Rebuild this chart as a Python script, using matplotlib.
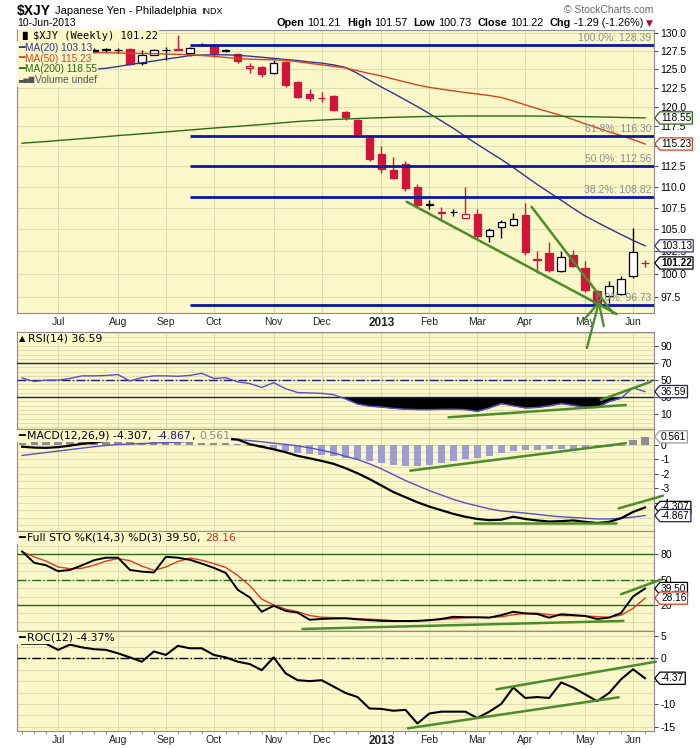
import numpy as np
import matplotlib
matplotlib.use("Agg")
import matplotlib.pyplot as plt
from matplotlib.patches import Rectangle, ConnectionPatch
from matplotlib.path import Path
from matplotlib.ticker import FixedLocator, FuncFormatter, NullLocator
from matplotlib.transforms import blended_transform_factory

plt.rcParams['font.family'] = ['Liberation Sans', 'DejaVu Sans']

# ------------------------------------------------------------------ data
weeks = list(range(1, 54))          # weekly bars, week 1 = 11-Jun-2012 ... week 53 = 10-Jun-2013
opens = [125.5, 126.3, 126.9, 127.3, 127.0, 127.5, 127.7, 127.75, 127.65, 127.8,
         125.85, 127.0, 127.6, 127.75, 127.3, 128.3, 128.35, 127.6, 127.1, 125.2,
         125.3, 124.5, 126.0, 123.3, 121.7, 121.2, 121.4, 119.3, 118.3, 116.1,
         114.0, 112.0, 112.8, 110.0, 107.85, 107.0, 106.95, 106.35, 106.8, 104.2,
         105.3, 105.5, 106.7, 101.65, 102.3, 100.3, 102.15, 100.7, 98.2, 97.6,
         97.9, 99.75, 101.21]
highs = [126.6, 127.2, 127.6, 127.9, 127.8, 128.0, 127.9, 127.95, 128.0, 127.95,
         127.7, 127.8, 128.1, 129.8, 128.1, 128.7, 128.5, 127.8, 127.2, 125.86,
         125.4, 126.3, 126.1, 123.4, 122.3, 121.9, 121.5, 119.5, 118.4, 116.2,
         115.0, 113.6, 113.1, 110.3, 108.4, 107.6, 107.4, 110.0, 107.4, 105.1,
         106.1, 106.9, 108.0, 102.6, 103.6, 102.5, 102.7, 101.4, 98.3, 99.3,
         99.8, 105.1, 101.57]
lows = [125.2, 126.0, 126.5, 126.8, 126.7, 127.1, 127.3, 127.4, 127.25, 125.6,
        125.6, 126.9, 126.3, 127.6, 126.8, 128.2, 126.65, 127.4, 125.86, 124.5,
        123.9, 124.4, 122.6, 121.1, 120.8, 120.6, 119.4, 118.3, 116.1, 113.1,
        111.7, 110.9, 109.5, 107.6, 107.4, 105.9, 106.5, 106.3, 103.9, 103.6,
        104.0, 105.4, 102.1, 100.1, 100.25, 100.2, 100.8, 98.1, 96.73, 96.85,
        97.8, 99.6, 100.73]
closes = [126.3, 126.9, 127.3, 127.0, 127.5, 127.3, 127.55, 127.65, 127.7, 125.7,
          127.0, 127.6, 127.65, 127.6, 127.9, 128.39, 127.2, 127.55, 126.1, 125.5,
          124.3, 125.9, 122.9, 121.3, 121.15, 121.1, 119.6, 118.7, 116.5, 113.4,
          112.1, 111.0, 109.8, 107.8, 107.95, 106.9, 107.05, 106.8, 104.2, 104.9,
          105.8, 106.2, 102.4, 101.55, 100.5, 101.9, 100.9, 98.3, 96.9, 98.7,
          99.5, 102.45, 101.22]
ma20 = [124.6, 124.6, 124.7, 124.75, 124.8, 124.9, 125.0, 125.14, 125.38, 125.65,
        125.89, 126.13, 126.41, 126.62, 126.89, 126.96, 127.0, 126.99, 126.92, 126.8,
        126.65, 126.5, 126.34, 126.2, 126.0, 125.85, 125.6, 125.25, 124.45, 123.5,
        122.6, 121.76, 120.89, 120.02, 119.1, 118.17, 117.22, 116.19, 115.19, 114.24,
        113.31, 112.32, 111.28, 110.26, 109.31, 108.38, 107.43, 106.54, 105.81, 105.1,
        104.41, 103.74, 103.13]
ma50 = [127.2, 127.25, 127.3, 127.3, 127.32, 127.32, 127.31, 127.28, 127.24, 127.21,
        127.18, 127.16, 127.1, 127.06, 127.0, 126.89, 126.78, 126.62, 126.48, 126.4,
        126.33, 126.31, 126.23, 126.04, 125.82, 125.61, 125.4, 125.18, 124.8, 124.43,
        124.09, 123.68, 123.28, 122.88, 122.57, 122.32, 122.1, 121.88, 121.68, 121.48,
        121.22, 120.76, 120.26, 119.76, 119.32, 118.86, 118.35, 117.8, 117.28, 116.77,
        116.3, 115.79, 115.23]
ma200 = [115.33, 115.44, 115.54, 115.67, 115.78, 115.91, 116.03, 116.16, 116.29, 116.4,
         116.52, 116.64, 116.76, 116.88, 117.0, 117.13, 117.25, 117.36, 117.47, 117.59,
         117.7, 117.83, 117.96, 118.09, 118.18, 118.27, 118.35, 118.41, 118.47, 118.53,
         118.58, 118.63, 118.67, 118.71, 118.74, 118.76, 118.79, 118.8, 118.8, 118.8,
         118.8, 118.8, 118.8, 118.79, 118.78, 118.76, 118.74, 118.71, 118.68, 118.65,
         118.61, 118.58, 118.55]
rsi = [52.5, 48.5, 50, 50, 52, 55, 55, 55.5, 56.5, 49,
       53, 55, 55, 54.5, 55.5, 58, 52, 52.8, 48, 46,
       41.5, 47, 40, 35.5, 35, 34.5, 33, 28, 22, 19.5,
       18.5, 17, 16, 15.5, 15.5, 15.8, 16, 15.5, 13.5, 17.5,
       22.5, 20, 17.5, 18, 20, 22.5, 20.5, 18, 18, 25,
       29, 41, 36.59]
macd = [-0.12, -0.18, -0.2, -0.15, -0.05, 0.08, 0.15, 0.3, 0.35, 0.35,
        0.38, 0.4, 0.42, 0.45, 0.45, 0.47, 0.48, 0.45, 0.37, 0.05,
        -0.12, -0.3, -0.5, -0.75, -0.92, -1.1, -1.3, -1.6, -1.95, -2.35,
        -2.8, -3.25, -3.6, -3.95, -4.25, -4.5, -4.75, -4.95, -5.1, -5.18,
        -5.15, -4.95, -5.1, -5.2, -5.28, -5.25, -5.2, -5.3, -5.38, -5.3,
        -5.05, -4.62, -4.307]
macd_signal = [-0.72, -0.62, -0.52, -0.42, -0.32, -0.22, -0.12, -0.03, 0.03, 0.07,
               0.1, 0.13, 0.16, 0.2, 0.24, 0.28, 0.32, 0.35, 0.37, 0.3,
               0.22, 0.12, 0.04, -0.06, -0.2, -0.36, -0.55, -0.78, -1.0, -1.3,
               -1.65, -2.05, -2.45, -2.8, -3.15, -3.45, -3.75, -4.0, -4.2, -4.4,
               -4.55, -4.62, -4.7, -4.78, -4.88, -4.95, -5.0, -5.05, -5.1, -5.1,
               -5.05, -4.97, -4.867]
macd_hist = [0.16, 0.17, 0.17, 0.18, 0.18, 0.17, 0.16, 0.17, 0.18, 0.17,
             0.16, 0.17, 0.18, 0.17, 0.17, 0.16, 0.15, 0.12, 0.05, -0.1,
             -0.22, -0.32, -0.45, -0.55, -0.62, -0.7, -0.78, -0.88, -1.0, -1.12,
             -1.25, -1.38, -1.47, -1.45, -1.38, -1.25, -1.12, -1.0, -0.88, -0.75,
             -0.55, -0.45, -0.38, -0.33, -0.3, -0.28, -0.25, -0.23, -0.2, -0.12,
             -0.04, 0.33, 0.561]
sto_k = [83.5, 70, 67, 60, 61.5, 67, 73, 76, 76, 61.5,
         59.5, 58.5, 77, 76, 73.5, 69, 64, 58, 38, 29,
         12, 19, 13, 11, 2.5, 3.5, 4, 4.2, 3, 2,
         1.2, 1, 1, 1.2, 2, 3.5, 6, 5.5, 5.4, 5,
         8, 12, 10, 9.3, 5, 9, 8, 7, 3.4, 5,
         10.5, 30, 39.50]
sto_d = [83, 77, 72, 65, 63, 63.5, 67, 72, 75, 72.5,
         66, 61, 65, 71.5, 75.5, 73, 69, 64.5, 55, 43,
         27, 20, 15, 12, 7.5, 5.5, 5, 4.5, 3.8, 3.2,
         2.5, 1.5, 1.1, 1.3, 2, 2.8, 4, 5, 5.5, 5.3,
         6, 8.5, 10, 10.3, 8.5, 7.5, 7.3, 7, 6.2, 5.5,
         8, 16, 28.16]
roc = [3.2, 3.2, 3.2, 1.85, 3.0, 2.4, 2.0, 1.85, 1.1, 0.2,
       -0.74, 1.5, 0.74, 2.74, 2.2, 2.2, 0.74, 0.2, -0.74, -1.26,
       -2.6, 0.2, -3.3, -4.8, -5.0, -4.8, -6.2, -7.6, -8.5, -11.0,
       -11.1, -11.5, -11.3, -14.3, -12.1, -11.7, -11.7, -11.7, -13.1, -11.7,
       -10, -6.4, -8.7, -8.5, -8.7, -5.3, -6.4, -7.9, -9.4, -7.6,
       -4.6, -2.4, -4.37]

month_pos = [4, 9, 13, 17, 22, 26, 31, 35, 39, 43, 48, 52]
month_labels = ['Jul', 'Aug', 'Sep', 'Oct', 'Nov', 'Dec', '2013', 'Feb', 'Mar', 'Apr', 'May', 'Jun']

fib_names = ['100.0%', '61.8%', '50.0%', '38.2%', '0.0%']
fib_levels = [128.39, 116.30, 112.56, 108.82, 96.73]
fib_start_week = 15

price_ticks = [97.5, 100.0, 102.5, 105.0, 107.5, 110.0, 112.5, 115.0, 117.5, 120.0, 122.5, 125.0, 127.5, 130.0]
rsi_ticks = [10, 30, 50, 70, 90]
macd_ticks = [0, -1, -2, -3, -4]
sto_ticks = [20, 50, 80]
roc_ticks = [5, 0, -5, -10, -15]

# hand-drawn annotation lines (week, value)
price_trendlines = [[(33.1, 108.2), (50.64, 95.74)], [(43.53, 107.6), (50.35, 95.8)]]
rsi_trendlines = [[(36.6, 6.5), (51.4, 20.9)], [(49.3, 26.8), (53.5, 48.2)]]
macd_trendlines = [[(33.4, -1.77), (51.4, 0.12)], [(50.8, -4.37), (54.5, -3.5)], [(38.7, -5.36), (50.6, -5.36)]]
sto_trendlines = [[(24.4, -8.4), (51.2, 1.1)], [(51.0, 32.7), (54.3, 50.0)]]
roc_trendlines = [[(40.6, -6.8), (53.9, -0.74)], [(33.2, -15.35), (50.8, -8.55)]]
arrow_tail_rsi = (48.15, 87.7)
arrow_tip_price = (49.2, 97.2)

chg, chg_pct = -1.29, -1.26

# ------------------------------------------------------------------ style
W, H = 700, 748
L, R = 16.5, 654
XMIN, XMAX = 0.53, 53.75
BG = '#faf7c8'
GRID = '#dcd8ae'
RED = '#d0143a'
NAVY = '#1c1c7c'
MA20C = '#34348f'
MA50C = '#d2461e'
MA200C = '#2a6a14'
GREEN = '#4d8c2b'
PURP = '#5a4ec8'
FIB = '#0c16a6'

fig = plt.figure(figsize=(W / 100, H / 100), dpi=100, facecolor='white')


def panel(top, bottom):
    return fig.add_axes([L / W, 1 - bottom / H, (R - L) / W, (bottom - top) / H])


ax_p = panel(29.5, 313)
ax_r = panel(331.7, 429)
ax_m = panel(429, 531)
ax_s = panel(531, 631)
ax_c = panel(631, 731)


def style(ax, ylim, ticks, fmt, minor=None, log=False):
    ax.set_facecolor(BG)
    if log:
        ax.set_yscale('log')
    ax.set_xlim(XMIN, XMAX)
    ax.set_ylim(*ylim)
    ax.set_xticks(month_pos)
    ax.tick_params(axis='x', which='major', length=0, labelbottom=False)
    ax.grid(True, axis='x', which='major', color=GRID, lw=0.7)
    ax.yaxis.tick_right()
    ax.yaxis.set_major_locator(FixedLocator(ticks))
    ax.yaxis.set_major_formatter(FuncFormatter(fmt))
    if minor is not None:
        ax.yaxis.set_minor_locator(FixedLocator(minor))
    else:
        ax.yaxis.set_minor_locator(NullLocator())
    ax.grid(True, axis='y', which='both', color=GRID, lw=0.6)
    ax.tick_params(axis='y', which='major', direction='out', length=3, width=0.7,
                   color='#444444', labelsize=7.5, pad=1.5)
    ax.tick_params(axis='y', which='minor', length=0)
    for s in ax.spines.values():
        s.set_color('#8c8c8c')
        s.set_linewidth(0.8)
    ax.set_axisbelow(True)


style(ax_p, (95.85, 130.54), price_ticks, lambda v, p: f'{v:.1f}', log=True)
style(ax_r, (-7.2, 106.7), rsi_ticks, lambda v, p: f'{v:g}', minor=np.arange(-5, 106, 5))
style(ax_m, (-5.93, 1.10), macd_ticks, lambda v, p: f'{v:g}', minor=np.arange(-6, 1.01, 0.5))
style(ax_s, (-10.8, 107.6), sto_ticks, lambda v, p: f'{v:g}', minor=np.arange(-10, 106, 10))
style(ax_c, (-15.94, 5.99), roc_ticks, lambda v, p: f'{v:g}', minor=np.arange(-15, 6, 2.5))

for ax in (ax_p, ax_c):
    ax.set_xticks(month_pos, month_labels)
    ax.tick_params(axis='x', which='major', labelbottom=True, labelsize=7.5, pad=3,
                   labelcolor='#222222')
    for lab in ax.get_xticklabels():
        if lab.get_text() == '2013':
            lab.set_fontweight('bold')
            lab.set_fontsize(8.5)
ax_c.set_xticks(weeks, minor=True)
ax_c.tick_params(axis='x', which='minor', length=2.5, width=0.6, color='#777777', direction='out')

x = np.array(weeks, dtype=float)

# ------------------------------------------------------------------ price panel
o = np.array(opens); h = np.array(highs); l = np.array(lows); c = np.array(closes)
prev = np.concatenate([[o[0]], c[:-1]])
bw = 0.62
for xi, oi, hi, li, ci, pi in zip(x, o, h, l, c, prev):
    col = RED if ci < pi else 'black'
    ax_p.vlines(xi, li, hi, color=col, lw=1.0, zorder=3)
    lo, up = min(oi, ci), max(oi, ci)
    fc = col if ci < oi else 'white'
    ax_p.add_patch(Rectangle((xi - bw / 2, lo), bw, max(up - lo, 0.01), fc=fc, ec=col,
                             lw=0.9, zorder=4))

ax_p.plot(x, ma20, color=MA20C, lw=1.0, zorder=5)
ax_p.plot(x, ma50, color=MA50C, lw=1.0, zorder=5)
ax_p.plot(x, ma200, color=MA200C, lw=1.0, zorder=5)

trp = blended_transform_factory(ax_p.transAxes, ax_p.transData)
for name, lev in zip(fib_names, fib_levels):
    ax_p.hlines(lev, fib_start_week, XMAX, color=FIB, lw=2.0, zorder=6)
    ax_p.annotate(f'{name}: {lev:.2f}', xy=(1.0, lev), xycoords=trp, xytext=(-2, 1.2),
                  textcoords='offset points', ha='right', va='bottom', fontsize=7.5,
                  color='#8e8e8e', zorder=7)

for (a, b) in price_trendlines:
    ax_p.plot([a[0], b[0]], [a[1], b[1]], color=GREEN, lw=1.8, zorder=8, clip_on=False,
              solid_capstyle='round')

# ------------------------------------------------------------------ RSI
r = np.array(rsi)
ax_r.fill_between(x, r, 30, where=r < 30, interpolate=True, color='black', lw=0, zorder=2)
ax_r.axhline(70, color=NAVY, lw=1.0, zorder=3)
ax_r.axhline(30, color=NAVY, lw=1.0, zorder=3)
ax_r.axhline(50, color=NAVY, lw=1.0, ls='-.', zorder=3)
ax_r.plot(x, r, color=PURP, lw=1.0, zorder=4)
for (a, b) in rsi_trendlines:
    ax_r.plot([a[0], b[0]], [a[1], b[1]], color=GREEN, lw=1.8, zorder=8, clip_on=False,
              solid_capstyle='round')

# ------------------------------------------------------------------ MACD
hist = np.array(macd_hist)
ax_m.bar(x, hist, width=0.6, color=['#8f8f8f' if v >= 0 else '#9d9dd0' for v in hist],
         zorder=2, lw=0)
ax_m.plot(x, macd_signal, color=PURP, lw=1.0, zorder=3)
ax_m.plot(x, macd, color='black', lw=1.6, zorder=4)
for (a, b) in macd_trendlines:
    ax_m.plot([a[0], b[0]], [a[1], b[1]], color=GREEN, lw=1.8, zorder=8, clip_on=False,
              solid_capstyle='round')

# ------------------------------------------------------------------ STO
ax_s.axhline(80, color='#276a18', lw=1.0, zorder=3)
ax_s.axhline(20, color='#276a18', lw=1.0, zorder=3)
ax_s.axhline(50, color='#276a18', lw=1.0, ls='-.', zorder=3)
ax_s.plot(x, sto_d, color='#e03a1e', lw=1.0, zorder=4)
ax_s.plot(x, sto_k, color='black', lw=1.4, zorder=5)
for (a, b) in sto_trendlines:
    ax_s.plot([a[0], b[0]], [a[1], b[1]], color=GREEN, lw=1.8, zorder=8, clip_on=False,
              solid_capstyle='round')

# ------------------------------------------------------------------ ROC
ax_c.axhline(0, color='black', lw=1.0, ls='-.', zorder=3)
ax_c.plot(x, roc, color='black', lw=1.5, zorder=4)
for (a, b) in roc_trendlines:
    ax_c.plot([a[0], b[0]], [a[1], b[1]], color=GREEN, lw=1.8, zorder=8, clip_on=False,
              solid_capstyle='round')

# arrow pointing at the low
con = ConnectionPatch(xyA=arrow_tail_rsi, coordsA='data', axesA=ax_r,
                      xyB=arrow_tip_price, coordsB='data', axesB=ax_p,
                      arrowstyle='->,head_length=1.1,head_width=0.55', mutation_scale=14,
                      color=GREEN, lw=1.7, shrinkA=0, shrinkB=0)
fig.add_artist(con)


# ------------------------------------------------------------------ value tags
def tag_path(x0, y0, width, height, mutation_size):
    pad = 0.11 * mutation_size
    x0 -= pad
    y0 -= pad
    x1 = x0 + width + 2 * pad
    y1 = y0 + height + 2 * pad
    tip = (y1 - y0) * 0.42
    return Path([(x0, y0), (x1, y0), (x1, y1), (x0, y1), (x0 - tip, (y0 + y1) / 2), (x0, y0)],
                closed=True)


def tag(ax, y, text, ec, bold=False):
    tr = blended_transform_factory(ax.transAxes, ax.transData)
    ax.text(1 + 7.0 / (R - L), y, text, transform=tr, ha='left', va='center', fontsize=7.3,
            fontweight='bold' if bold else 'normal', color='black', clip_on=False, zorder=20,
            bbox=dict(boxstyle=tag_path, fc='white', ec=ec, lw=0.9))


tag(ax_p, ma200[-1], f'{ma200[-1]:.2f}', MA200C)
tag(ax_p, ma50[-1], f'{ma50[-1]:.2f}', MA50C)
tag(ax_p, ma20[-1], f'{ma20[-1]:.2f}', MA20C)
tag(ax_p, closes[-1], f'{closes[-1]:.2f}', 'black', bold=True)
tag(ax_r, rsi[-1], f'{rsi[-1]:.2f}', NAVY)
tag(ax_m, macd_hist[-1], f'{macd_hist[-1]:.3f}', '#9a9a9a')
tag(ax_m, macd[-1], f'{macd[-1]:.3f}', 'black')
tag(ax_m, macd_signal[-1], f'{macd_signal[-1]:.3f}', NAVY)
tag(ax_s, sto_k[-1], f'{sto_k[-1]:.2f}', 'black')
tag(ax_s, sto_d[-1], f'{sto_d[-1]:.2f}', '#e03a1e')
tag(ax_c, roc[-1], f'{roc[-1]:.2f}', 'black')

# ------------------------------------------------------------------ texts
rend = fig.canvas.get_renderer()


def seq(x0, y, parts, align='left', box=None, extra=1.2):
    placed = []
    cx = 0.0
    hh = 0.0
    for s, kw, gap in parts:
        t = fig.text(0, 1 - y / H, s, ha='left', va='center', zorder=3, **kw)
        placed.append((t, cx))
        ext = t.get_window_extent(renderer=rend)
        cx += ext.width + gap
        hh = max(hh, ext.height)
    total = cx - parts[-1][2]
    start = x0 if align == 'left' else x0 - total
    for t, off in placed:
        t.set_x((start + off) / W)
    if box is not None:
        fig.add_artist(Rectangle(((start - extra) / W, 1 - (y + hh / 2 + extra) / H),
                                 (total + 2 * extra) / W, (hh + 2 * extra) / H,
                                 transform=fig.transFigure, fc=box, ec='none', zorder=2.9))


seq(17, 11, [('$XJY', dict(fontsize=10, fontweight='bold'), 4),
             ('Japanese Yen - Philadelphia', dict(fontsize=8), 4),
             ('INDX', dict(fontsize=6.5), 0)])
seq(17, 23, [('10-Jun-2013', dict(fontsize=7.5), 0)])
fig.text(653 / W, 1 - 10 / H, '\u00a9 StockCharts.com', ha='right', va='center', fontsize=7.5,
         color='#6a6a6a')
hk = dict(fontsize=7.8, fontweight='bold')
hv = dict(fontsize=7.8)
seq(653, 23, [('Open', hk, 3), (f'{opens[-1]:.2f}', hv, 6),
              ('High', hk, 3), (f'{highs[-1]:.2f}', hv, 6),
              ('Low', hk, 3), (f'{lows[-1]:.2f}', hv, 6),
              ('Close', hk, 3), (f'{closes[-1]:.2f}', hv, 6),
              ('Chg', hk, 3), (f'{chg:.2f} ({chg_pct:.2f}%)', hv, 3),
              ('\u25bc', dict(fontsize=6.5, color='#b01030', family=['DejaVu Sans']), 0)],
    align='right')

# price legend
mono = dict(fontsize=7.5, family=['DejaVu Sans Mono'])
seq(19, 36, [('\u2590\u258c', dict(fontsize=5.5, family=['DejaVu Sans']), 2),
             (f'$XJY (Weekly) {closes[-1]:.2f}', mono, 0)], box=BG)
seq(18, 47.7, [('\u2501', dict(fontsize=8, color=MA20C, family=['DejaVu Sans']), 0),
               (f'MA(20) {ma20[-1]:.2f}', dict(fontsize=7.3, color=MA20C), 0)], box=BG)
seq(18, 58.5, [('\u2501', dict(fontsize=8, color=MA50C, family=['DejaVu Sans']), 0),
               (f'MA(50) {ma50[-1]:.2f}', dict(fontsize=7.3, color=MA50C), 0)], box=BG)
seq(18, 69.3, [('\u2501', dict(fontsize=8, color=MA200C, family=['DejaVu Sans']), 0),
               (f'MA(200) {ma200[-1]:.2f}', dict(fontsize=7.3, color=MA200C), 0)], box=BG)
seq(18, 80.3, [('\u2583\u2585\u2587', dict(fontsize=5, color='#555555', family=['DejaVu Sans']), 1),
               ('Volume undef', dict(fontsize=7.3, color='#555555'), 0)], box=BG)

dv = dict(fontsize=7.8, family=['DejaVu Sans'])
seq(19, 339, [('\u25b2', dict(fontsize=6, family=['DejaVu Sans']), 2),
              (f'RSI(14) {rsi[-1]:.2f}', dv, 0)], box=BG)
seq(18, 436, [('\u2501', dict(fontsize=8, family=['DejaVu Sans']), 2),
              (f'MACD(12,26,9) {macd[-1]:.3f}', dv, 0),
              (',', dv, 5),
              (f'{macd_signal[-1]:.3f}', dict(dv, color=NAVY), 0),
              (',', dv, 5),
              (f'{macd_hist[-1]:.3f}', dict(dv, color='#8a8a8a'), 0)], box=BG, extra=0.6)
seq(18, 538, [('\u2501', dict(fontsize=8, family=['DejaVu Sans']), 2),
              (f'Full STO %K(14,3) %D(3) {sto_k[-1]:.2f}', dv, 0),
              (',', dv, 5),
              (f'{sto_d[-1]:.2f}', dict(dv, color='#d0301a'), 0)], box=BG)
seq(18, 638, [('\u2501', dict(fontsize=8, family=['DejaVu Sans']), 2),
              (f'ROC(12) {roc[-1]:.2f}%', dv, 0)], box=BG)

fig.savefig('out.png', dpi=100, facecolor='white')
